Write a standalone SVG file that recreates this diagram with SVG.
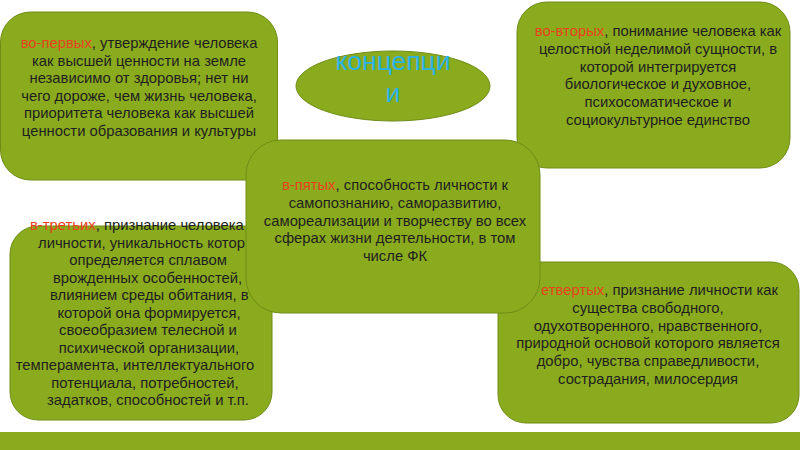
<svg xmlns="http://www.w3.org/2000/svg" width="800" height="450" viewBox="0 0 800 450">
<style>
.box{fill:#8aab1e;stroke:#6f8c16;stroke-width:1}
.t{font-family:"Liberation Sans",Arial,sans-serif;font-size:14.8px;fill:#1e1e1e;text-anchor:middle}
.s{text-anchor:start}
.e{text-anchor:end}
.r{fill:#e8421c}
.title{font-family:"Liberation Sans",Arial,sans-serif;font-size:26.5px;fill:#2bb3e6;text-anchor:middle}
</style>
<rect x="0" y="0" width="800" height="450" fill="#ffffff"/>
<rect x="0" y="432" width="800" height="18" fill="#8aab1e"/>
<g id="connectors"></g>
<g id="node1">
<rect class="box" x="0.5" y="12" width="277" height="168" rx="30"/>
<text class="t" x="139" y="48"><tspan class="r">во-первых</tspan>, утверждение человека</text>
<text class="t" x="139" y="65.6">как высшей ценности на земле</text>
<text class="t" x="139" y="83.2">независимо от здоровья; нет ни</text>
<text class="t" x="139" y="100.8">чего дороже, чем жизнь человека,</text>
<text class="t" x="139" y="118.4">приоритета человека как высшей</text>
<text class="t" x="139" y="136">ценности образования и культуры</text>
</g>
<g id="node2">
<rect class="box" x="517" y="2" width="273" height="166" rx="30"/>
<text class="t" x="658" y="36"><tspan class="r">во-вторых</tspan>, понимание человека как</text>
<text class="t" x="658" y="54">целостной неделимой сущности, в</text>
<text class="t" x="658" y="71.5">которой интегрируется</text>
<text class="t" x="658" y="89">биологическое и духовное,</text>
<text class="t" x="658" y="107">психосоматическое и</text>
<text class="t" x="658" y="124.5">социокультурное единство</text>
</g>
<g id="node3">
<rect class="box" x="10" y="226" width="262" height="194" rx="28"/>
<text class="t s" x="30" y="230"><tspan class="r">в-третьих</tspan>, признание человека</text>
<text class="t s" x="38" y="247.5">личности, уникальность котор</text>
<text class="t" x="148" y="265">определяется сплавом</text>
<text class="t s" x="53" y="282.5">врожденных особенностей,</text>
<text class="t s" x="50" y="300">влиянием среды обитания, в</text>
<text class="t" x="149" y="317.5">которой она формируется,</text>
<text class="t" x="148" y="335">своеобразием телесной и</text>
<text class="t" x="149" y="352.5">психической организации,</text>
<text class="t" x="135" y="370">темперамента, интеллектуального</text>
<text class="t" x="145" y="387.5">потенциала, потребностей,</text>
<text class="t" x="148" y="405">задатков, способностей и т.п.</text>
</g>
<g id="node4">
<rect class="box" x="498" y="262" width="301" height="161" rx="28"/>
<text class="t e" x="778" y="295"><tspan class="r">етвертых</tspan>, признание личности как</text>
<text class="t" x="648" y="313">существа свободного,</text>
<text class="t" x="648" y="330.5">одухотворенного, нравственного,</text>
<text class="t" x="648" y="348">природной основой которого является</text>
<text class="t" x="648" y="366">добро, чувства справедливости,</text>
<text class="t" x="648" y="383.5">сострадания, милосердия</text>
</g>
<g id="node5">
<rect class="box" x="246" y="140" width="294" height="173" rx="35"/>
<text class="t" x="395" y="190"><tspan class="r">в-пятых</tspan>, способность личности к</text>
<text class="t" x="395" y="208">самопознанию, саморазвитию,</text>
<text class="t" x="395" y="225.5">самореализации и творчеству во всех</text>
<text class="t" x="395" y="243">сферах жизни деятельности, в том</text>
<text class="t" x="395" y="261">числе ФК</text>
</g>
<g id="title">
<ellipse class="box" cx="393" cy="86" rx="97" ry="35"/>
<text class="title" x="393" y="70">концепци</text>
<text class="title" x="393" y="102">и</text>
</g>
</svg>
